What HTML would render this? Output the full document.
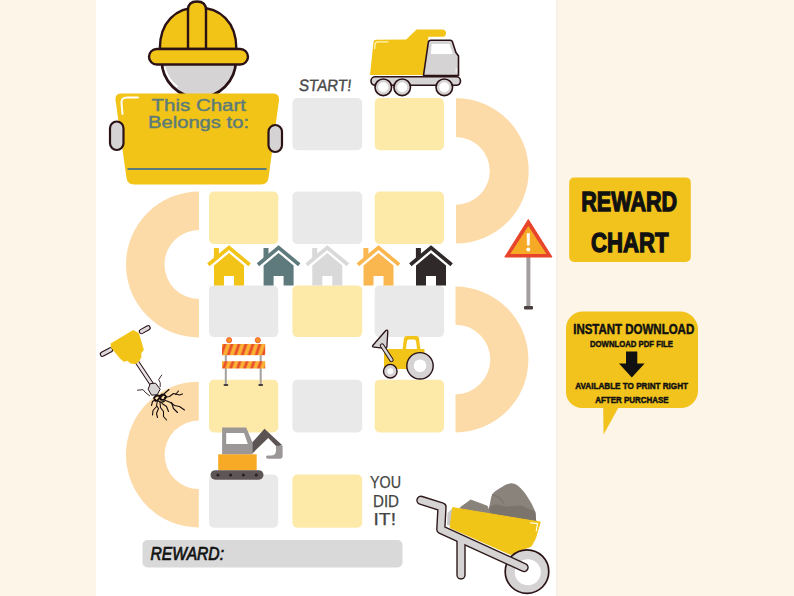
<!DOCTYPE html>
<html><head><meta charset="utf-8"><title>Reward Chart</title>
<style>
html,body{margin:0;padding:0;width:794px;height:596px;overflow:hidden;background:#fdf5e8;}
svg{display:block;}
text{font-family:"Liberation Sans",sans-serif;}
</style></head>
<body>
<svg width="794" height="596" viewBox="0 0 794 596">
<rect x="0" y="0" width="794" height="596" fill="#fdf5e8"/>
<rect x="556" y="0" width="2" height="596" fill="#f7f0e6"/>
<rect x="96" y="0" width="460" height="596" fill="#ffffff"/>

<!-- arcs -->
<g fill="#fddba9">
<path d="M456,98.2 A72.7,72.7 0 0 1 456,243.6 L456,204.7 A33.8,33.8 0 0 0 456,137.1 Z"/>
<path d="M199,191.5 A73,73 0 0 0 199,337.5 L199,299 A34.5,34.5 0 0 1 199,230 Z"/>
<path d="M455.5,286.6 A72.9,72.9 0 0 1 455.5,432.4 L455.5,394.3 A34.8,34.8 0 0 0 455.5,324.7 Z"/>
<path d="M198.8,381.7 A72.9,72.9 0 0 0 198.8,527.5 L198.8,489 A34.2,34.2 0 0 1 198.8,420.6 Z"/>
</g>

<!-- squares -->
<g>
<rect x="292.4" y="98" width="69.8" height="52.2" rx="5" fill="#e9e9e9"/>
<rect x="374.7" y="98" width="69.3" height="52.2" rx="5" fill="#fdeaa9"/>
<rect x="209" y="191.5" width="69.2" height="52.6" rx="5" fill="#fdeaa9"/>
<rect x="292.4" y="191.5" width="69.8" height="52.6" rx="5" fill="#e9e9e9"/>
<rect x="374.7" y="191.5" width="69.3" height="52.6" rx="5" fill="#fdeaa9"/>
<rect x="209" y="285.4" width="69.2" height="51.7" rx="5" fill="#e9e9e9"/>
<rect x="292.4" y="285.4" width="69.8" height="51.7" rx="5" fill="#fdeaa9"/>
<rect x="374.7" y="285.4" width="69.3" height="51.7" rx="5" fill="#e9e9e9"/>
<rect x="209" y="379.8" width="69.2" height="52.6" rx="5" fill="#fdeaa9"/>
<rect x="292.4" y="379.8" width="69.8" height="52.6" rx="5" fill="#e9e9e9"/>
<rect x="374.7" y="379.8" width="69.3" height="52.6" rx="5" fill="#fdeaa9"/>
<rect x="209" y="474.5" width="69.2" height="53.2" rx="5" fill="#e9e9e9"/>
<rect x="292.4" y="474.5" width="69.8" height="53.2" rx="5" fill="#fdeaa9"/>
</g>

<!-- worker with sign -->
<g stroke="#2a1216" stroke-width="2.4" stroke-linejoin="round">
<circle cx="198.8" cy="60.6" r="37.05" fill="#d5d3d3" stroke-width="2.7"/>
<path d="M159.8,49 C159.8,22 176,7.5 198,7.5 C220,7.5 236.4,22 236.4,49 Z" fill="#f2c417"/>
<path d="M188,49 L188,10 Q188,1.5 197,1.5 Q206,1.5 206,10 L206,49 Z" fill="#f2c417"/>
<rect x="149" y="49" width="99" height="15.5" rx="7.75" fill="#f2c417"/>
</g>
<path d="M164.8,67.5 Q168,80 177,86.5" stroke="#fff" stroke-width="1.7" fill="none" stroke-linecap="round"/>
<path d="M121,93.5 L273,93.5 Q279.5,93.5 279,100 L268.5,178 Q267.5,184.5 261,184.5 L134,184.5 Q127.5,184.5 126.5,178 L115.5,100 Q115,93.5 121,93.5 Z" fill="#f2c417"/>
<path d="M122.5,114 L121.5,103 Q121,97.5 127,97.5 L138,97.5" stroke="#fff" stroke-width="2" fill="none" stroke-linecap="round"/>
<line x1="127.5" y1="169" x2="266.5" y2="169" stroke="#5b7b7a" stroke-width="2"/>
<g stroke="#2a1216" stroke-width="2.2" fill="#d5d3d3">
<rect x="110" y="121.5" width="13.5" height="28.5" rx="6.75"/>
<rect x="268.5" y="125" width="13.5" height="27" rx="6.75"/>
</g>
<g fill="#5b7b7a" font-size="16.5" stroke="#5b7b7a" stroke-width="0.4">
<text x="151.5" y="111" textLength="94.5" lengthAdjust="spacingAndGlyphs">This Chart</text>
<text x="148" y="128" textLength="101" lengthAdjust="spacingAndGlyphs">Belongs to:</text>
</g>

<!-- dump truck -->
<path d="M373.5,42 Q373.8,39.8 376,39.8 L406.2,39.6 L416.6,29.6 L443,29.6 A3.6,3.6 0 0 1 443,36.7 L428.5,36.7 L423.5,75 L370,75 Z" fill="#f2c417"/>
<path d="M374.8,48.5 L375,44.2 Q375.4,41.9 377.8,41.9 L388,41.9" stroke="#fff6b8" stroke-width="1.3" fill="none" stroke-linecap="round"/>
<g stroke="#2a1216" stroke-width="1.6" stroke-linejoin="round">
<path d="M423.5,75.5 L428.3,42.5 Q428.6,40.3 430.8,40.3 L450.3,40.3 Q451.9,40.3 452.4,41.8 L455.9,52.6 L458.5,56 L458.5,75.5 Z" fill="#d5d3d3"/>
<rect x="371" y="76.8" width="89.5" height="8.5" rx="4.2" fill="#d5d3d3"/>
</g>
<path d="M431.7,44 L449.5,44 L452.8,54 L430.8,54 Z" fill="#fff"/>
<path d="M456.2,68 L456.2,72.5" stroke="#fff" stroke-width="0.9"/>
<g stroke="#2a1216" stroke-width="1.6" fill="#d5d3d3">
<circle cx="383.3" cy="87.3" r="8.3"/>
<circle cx="402.2" cy="87.3" r="8.3"/>
<circle cx="444.3" cy="87.3" r="8.3"/>
</g>
<g fill="#fff">
<circle cx="383.3" cy="87.3" r="5"/>
<circle cx="402.2" cy="87.3" r="5"/>
<circle cx="444.3" cy="87.3" r="5"/>
</g>

<!-- houses -->
<defs>
<g id="house">
<rect x="-15.1" y="248" width="5" height="10"/>
<path d="M0,245.2 L21.8,263.3 L19.5,266.2 L0,250 L-19.5,266.2 L-21.8,263.3 Z"/>
<path d="M-15,265.6 L0,253 L15,265.6 L15,285.4 L5,285.4 L5,276 L-5,276 L-5,285.4 L-15,285.4 Z"/>
</g>
</defs>
<use href="#house" x="229" fill="#f2c417"/>
<use href="#house" x="278.6" fill="#5e7a7d"/>
<use href="#house" x="327.3" fill="#d9d9d9"/>
<use href="#house" x="378.5" fill="#fbb74f"/>
<use href="#house" x="431" fill="#2f2929"/>

<!-- road barrier -->
<g stroke="#a5a0a0" stroke-width="2">
<line x1="225.8" y1="354" x2="225.8" y2="385"/>
<line x1="260.7" y1="354" x2="260.7" y2="385"/>
</g>
<g fill="#4a3f3f">
<rect x="223.5" y="384" width="4.8" height="2" rx="1"/>
<rect x="258.3" y="384" width="4.8" height="2" rx="1"/>
</g>
<defs>
<pattern id="stripes" patternUnits="userSpaceOnUse" width="6.6" height="6.6" patternTransform="translate(222,344) rotate(19)">
<rect width="6.6" height="6.6" fill="#f9b233"/>
<rect x="1.5" width="2.8" height="6.6" fill="#e94e2b"/>
</pattern>
</defs>
<rect x="222" y="344" width="43.2" height="11.2" fill="url(#stripes)"/>
<rect x="222" y="361.2" width="43.2" height="7.3" fill="url(#stripes)"/>
<g fill="#f7931e" stroke="#ee4b2b" stroke-width="0.8">
<circle cx="229.1" cy="340.2" r="2.6"/>
<circle cx="257.8" cy="340.2" r="2.6"/>
</g>

<!-- road roller / tractor -->
<path d="M402.5,350 L404,338 Q404.5,336 407,336 L416,336 Q418.5,336 419,338 L420.5,350 Z" fill="#f2c417"/>
<path d="M406,349 L407,341 Q407.3,339.5 409,339.5 L414,339.5 Q415.7,339.5 416,341 L417,349 Z" fill="#fff"/>
<rect x="384" y="349" width="40.5" height="20" fill="#f2c417"/>
<path d="M385.6,330.8 Q387.6,329.2 387.8,331.5 L386.9,346.8 Q386.7,348.6 384.9,348.4 L374,347.2 Q371.6,346.9 373,345.2 Z" fill="#d5d3d3" stroke="#2a1216" stroke-width="1.3" stroke-linejoin="round"/>
<line x1="382" y1="345.5" x2="391.5" y2="360" stroke="#2a1216" stroke-width="4.4" stroke-linecap="round"/>
<line x1="382" y1="345.5" x2="391.5" y2="360" stroke="#d5d3d3" stroke-width="2.4" stroke-linecap="round"/>
<g stroke="#2a1216" stroke-width="1.4" fill="#d5d3d3">
<circle cx="420" cy="365.8" r="13.2"/>
<circle cx="390.3" cy="371.2" r="6.8"/>
</g>
<g fill="#fff">
<circle cx="420" cy="365.8" r="6.3"/>
<circle cx="390.3" cy="371.2" r="3"/>
</g>

<!-- excavator -->
<path d="M222.1,427.6 L246.2,427.6 L252.6,442.4 L252.6,454.5 L222.1,454.5 Z" fill="#9c9797"/>
<path d="M226.2,433 L244,433 L247.8,444 L226.2,444 Z" fill="#fff"/>
<path d="M252.4,442.3 L264.5,428.7 L282.3,445.3 L276.6,446.4 L268.2,438.1 L252.4,453.4 Z" fill="#5c5353"/>
<path d="M275.9,445.8 L282.6,445.8 L282.6,456 Q282.6,458.8 279.8,458.8 L268,458.8 Q266,458.8 266,456.8 Q266,455.6 268,455.6 L271,455.6 Q275.5,455.6 276,451 Z" fill="#9c9797"/>
<rect x="218.2" y="454.3" width="38.5" height="16" fill="#f7aa25"/>
<rect x="210.5" y="470.2" width="53" height="9.5" rx="4.75" fill="#5e5656"/>
<g fill="#2a2222">
<circle cx="217.9" cy="475" r="1.6"/>
<circle cx="230.6" cy="475" r="1.6"/>
<circle cx="243.4" cy="475" r="1.6"/>
<circle cx="256.3" cy="475" r="1.6"/>
</g>

<!-- warning sign -->
<rect x="526.4" y="256" width="4" height="51" fill="#a39d9d"/>
<rect x="524" y="306" width="9" height="3.4" rx="1" fill="#4a4040"/>
<path d="M528.3,219.5 L552,257 L504.8,257 Z" fill="#e8442b" stroke="#e8442b" stroke-width="1" stroke-linejoin="round"/>
<path d="M528.3,226 L546.5,254 L510.2,254 Z" fill="#f6a925"/>
<path d="M527,233.5 L529.6,233.5 L529.3,245.2 L527.3,245.2 Z" fill="#fff" stroke="#fff" stroke-width="0.6" stroke-linejoin="round"/>
<circle cx="528.3" cy="249.4" r="2" fill="#fff"/>

<!-- jackhammer -->
<g stroke-linecap="round" fill="none">
<line x1="141.5" y1="331.5" x2="148" y2="327.8" stroke="#2a1216" stroke-width="5.4"/>
<line x1="141.5" y1="331.5" x2="148" y2="327.8" stroke="#dcd8dc" stroke-width="3.2"/>
<line x1="102.5" y1="354.2" x2="110.5" y2="349.8" stroke="#2a1216" stroke-width="5.4"/>
<line x1="102.5" y1="354.2" x2="110.5" y2="349.8" stroke="#dcd8dc" stroke-width="3.2"/>
<line x1="137" y1="362" x2="151.6" y2="384" stroke="#2a1216" stroke-width="4.6"/>
<line x1="137" y1="362" x2="151.6" y2="384" stroke="#e6e2e6" stroke-width="2.6"/>
</g>
<path d="M150.3,383.6 L155.6,383.2 L160.2,389.2 L157.2,394.7 L151.6,395.2 L148.1,389.2 Z" fill="#d5d3d3" stroke="#2a1216" stroke-width="1" stroke-linejoin="round"/>
<path d="M111.5,344 L133.2,331 L138.3,333.7 L143,349.7 L140.4,353 L140.6,357.2 L138.3,361 L134.9,363.3 L130.7,362.7 L127.4,359.8 L124,361 L121,358.5 L111.5,347 Z" fill="#f2c417" stroke="#f2c417" stroke-width="1.6" stroke-linejoin="round"/>
<g stroke="#2a1216" stroke-width="0.9" fill="none" stroke-linecap="round" stroke-linejoin="round">
<path d="M137.5,390.2 L143.1,389.7 L145.1,392.2 L149.6,395.7"/>
<path d="M161.7,375.1 L158.7,379.6 L160.2,382.7 L160.2,386.7"/>
</g>
<g stroke="#150d0d" stroke-width="1.1" fill="none" stroke-linecap="round" stroke-linejoin="round" transform="translate(1.5,1.5)">
<path d="M152.5,396.5 Q154.5,392.8 158.3,394.6 Q157.6,399.2 153.8,399.4 Z" stroke-width="1.8"/>
<path d="M159,394 Q162.3,391.6 164.6,395 Q163.4,399.4 159.3,398.2 Z" stroke-width="1.8"/>
<path d="M157,399.5 Q160,402 163,399.5" stroke-width="1.5"/>
<path d="M156,399 L155,404 L157,407 L155,412 L156,416"/>
<path d="M158.5,401 L159,406 L162,410 L162,415 L165,418.5"/>
<path d="M163,396 L168,395 L172,392 L178,393.5 L181,392.5"/>
<path d="M164,399 L169,401 L173,404 L178,405 L183,408.5"/>
<path d="M170,401 L172,407 L176,411"/>
<path d="M160.5,402 L165,405 L167,410"/>
<path d="M155,405 L151.5,409 L151,413.5"/>
<path d="M154,398 L151,400 L150,404"/>
<path d="M160,395 L164,391 L167.5,388"/>
<path d="M174,393 L177,389.5"/>
</g>

<!-- wheelbarrow -->
<path d="M488.3,512 L491.2,497 Q492.5,492.5 497,490 L506,484.6 Q512,481.8 517,485 Q523.5,490 528.5,498.5 Q533.5,506 535.5,513 L536.2,521 L490,515 Z" fill="#8a837b"/>
<path d="M489.5,506.5 L496,504.5 L506,506.5 L521,505.5 L535.3,511.5 L536.2,521 L490,515 Z" fill="#7b746d"/>
<path d="M492,494.5 L499.5,497.5 L504.5,504.5" stroke="#7b746d" stroke-width="1.1" fill="none"/>
<path d="M460.3,507.6 L470.7,500 L487.2,506.2 L490,513 L462,510 Z" fill="#8a837b" stroke="#8a837b" stroke-width="1" stroke-linejoin="round"/>
<path d="M447.5,513 L452.7,508 L452,526 L447,525 Z" fill="#c8c6c6"/>
<path d="M452.7,507.6 L540.2,522.1 L535.4,538.6 L531.2,546.2 L510.6,554.4 L450,527.6 Z" fill="#f1c418" stroke="#f1c418" stroke-width="1" stroke-linejoin="round"/>
<path d="M530.5,522.8 L537.6,523.6 L536.2,531" stroke="#fff" stroke-width="1.1" fill="none" stroke-linecap="round" stroke-linejoin="round"/>
<circle cx="527" cy="571.6" r="21.8" fill="#d5d3d3" stroke="#2a1216" stroke-width="1.7"/>
<circle cx="527.8" cy="572.3" r="13" fill="#fff"/>
<g stroke-linejoin="round" stroke-linecap="round" fill="none">
<path d="M421,500.3 L442,507 L440.8,529.5 L524,567.5" stroke="#2e1a1a" stroke-width="9.4"/>
<path d="M461,541 L461,575" stroke="#2e1a1a" stroke-width="9.4"/>
<path d="M461,541 L461,575" stroke="#d5d3d3" stroke-width="6.6"/>
<path d="M421,500.3 L442,507 L440.8,529.5 L524,567.5" stroke="#d5d3d3" stroke-width="6.6"/>
</g>

<!-- reward bar -->
<rect x="142.5" y="540" width="260" height="27.5" rx="5" fill="#d9d9d9"/>
<text x="150.5" y="560" font-size="18" fill="#111" stroke="#111" stroke-width="0.7" textLength="73.5" lengthAdjust="spacingAndGlyphs" font-style="italic">REWARD:</text>

<!-- START -->
<text x="299" y="90.7" font-size="16.5" fill="#4a4a4a" stroke="#4a4a4a" stroke-width="0.4" textLength="52.5" lengthAdjust="spacingAndGlyphs" transform="translate(0,85) skewX(-6) translate(0,-85)">START!</text>

<!-- YOU DID IT -->
<g fill="#444" stroke="#444" stroke-width="0.25" font-size="16.5">
<text x="370" y="488" textLength="31" lengthAdjust="spacingAndGlyphs">YOU</text>
<text x="373" y="506.7" textLength="26" lengthAdjust="spacingAndGlyphs">DID</text>
<text x="373.5" y="525.4" textLength="22.5" lengthAdjust="spacingAndGlyphs">IT!</text>
</g>

<!-- REWARD CHART box -->
<rect x="569.2" y="177.4" width="121.6" height="84.6" rx="5" fill="#f2c21d"/>
<text x="581.2" y="211.4" font-size="27.5" font-weight="bold" fill="#111" stroke="#111" stroke-width="1.3" textLength="96" lengthAdjust="spacingAndGlyphs">REWARD</text>
<text x="591" y="252" font-size="27.5" font-weight="bold" fill="#111" stroke="#111" stroke-width="1.3" textLength="77.5" lengthAdjust="spacingAndGlyphs">CHART</text>

<!-- speech bubble -->
<path d="M583.5,311.4 L680,311.4 A18,18 0 0 1 698,329.4 L698,391 A17,17 0 0 1 681,408 L618.2,408 L603.6,434.4 L603.2,408 L582,408 A16,16 0 0 1 566,392 L566,328.4 A17,17 0 0 1 583.5,311.4 Z" fill="#f2c21d"/>
<g fill="#111" font-weight="bold" stroke="#111" stroke-width="0.5">
<text x="573.2" y="334.2" font-size="14.3" textLength="121" lengthAdjust="spacingAndGlyphs">INSTANT DOWNLOAD</text>
<text x="590" y="346.5" font-size="9.6" textLength="83" lengthAdjust="spacingAndGlyphs">DOWNLOAD PDF FILE</text>
<text x="575.3" y="389.2" font-size="9.6" textLength="112.7" lengthAdjust="spacingAndGlyphs">AVAILABLE TO PRINT RIGHT</text>
<text x="595.2" y="403.2" font-size="9.2" textLength="73.3" lengthAdjust="spacingAndGlyphs">AFTER PURCHASE</text>
</g>
<path d="M626,351.6 L637.3,351.6 L637.3,363.5 L644.6,363.5 L631.8,377.6 L619,363.5 L626,363.5 Z" fill="#111"/>

</svg>
</body></html>
